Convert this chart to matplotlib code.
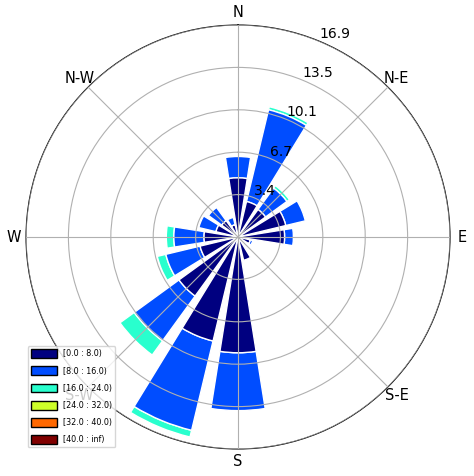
import numpy as np
import matplotlib
matplotlib.use("Agg")
import matplotlib.pyplot as plt
from matplotlib.patches import Patch

# 16 direction sectors, degrees clockwise from north
directions = [0, 22.5, 45, 67.5, 90, 112.5, 135, 157.5,
              180, 202.5, 225, 247.5, 270, 292.5, 315, 337.5]

# frequency (%) per speed bin and sector
bin_0_8 = [4.7, 2.9, 2.7, 3.9, 3.7, 1.0, 0.2, 1.9,
           9.2, 8.5, 5.8, 3.1, 2.7, 1.8, 1.6, 1.0]
bin_8_16 = [1.7, 7.5, 2.1, 1.6, 0.7, 0.2, 0.0, 0.0,
            4.6, 7.3, 4.4, 2.8, 2.4, 1.4, 1.3, 0.6]
bin_16_24 = [0.0, 0.25, 0.25, 0.0, 0.0, 0.0, 0.0, 0.0,
             0.0, 0.55, 1.4, 0.7, 0.6, 0.0, 0.1, 0.0]
bin_24_32 = [0.0] * 16
bin_32_40 = [0.0] * 16
bin_40_inf = [0.0] * 16

bin_labels = ["[0.0 : 8.0)", "[8.0 : 16.0)", "[16.0 : 24.0)",
              "[24.0 : 32.0)", "[32.0 : 40.0)", "[40.0 : inf)"]

theta_labels = ["N", "N-E", "E", "S-E", "S", "S-W", "W", "N-W"]
radii = [3.37, 6.74, 10.11, 13.48, 16.85]
radii_labels = ["3.4", "6.7", "10.1", "13.5", "16.9"]

series = [bin_0_8, bin_8_16, bin_16_24, bin_24_32, bin_32_40, bin_40_inf]
colors = plt.cm.jet(np.linspace(0, 1, len(series)))

fig = plt.figure(figsize=(4.74, 4.76), dpi=100)
ax = fig.add_axes([0.0549, 0.0567, 0.8945, 0.8908], projection="polar")
ax.set_theta_zero_location("N")
ax.set_theta_direction(-1)

theta = np.radians(directions)
width = np.radians(22.5) * 0.8
offset = np.zeros(len(directions))
for i, vals in enumerate(series):
    vals = np.array(vals)
    # keep bars under the grid and tick labels
    ax.bar(theta, vals, width=width, bottom=offset, color=colors[i],
           edgecolor="white", linewidth=1, zorder=1.6 - 0.1 * i)
    offset = offset + vals

ax.set_ylim(0, 16.85)
ax.set_thetagrids(np.arange(0, 360, 45), labels=theta_labels)
ax.set_rgrids(radii, labels=radii_labels, angle=22.5)
ax.set_axisbelow(False)
ax.grid(True, color="#b0b0b0", linewidth=0.8)
ax.tick_params(axis="x", pad=-1.5, labelsize=10.5)

handles = [Patch(facecolor=colors[i], edgecolor="black") for i in range(len(series))]
ax.legend(handles, bin_labels, loc="lower left", fontsize=5.8,
          handlelength=3.2, handleheight=1.3, labelspacing=1.0,
          borderaxespad=0.2)

plt.savefig("out.png", dpi=100)
